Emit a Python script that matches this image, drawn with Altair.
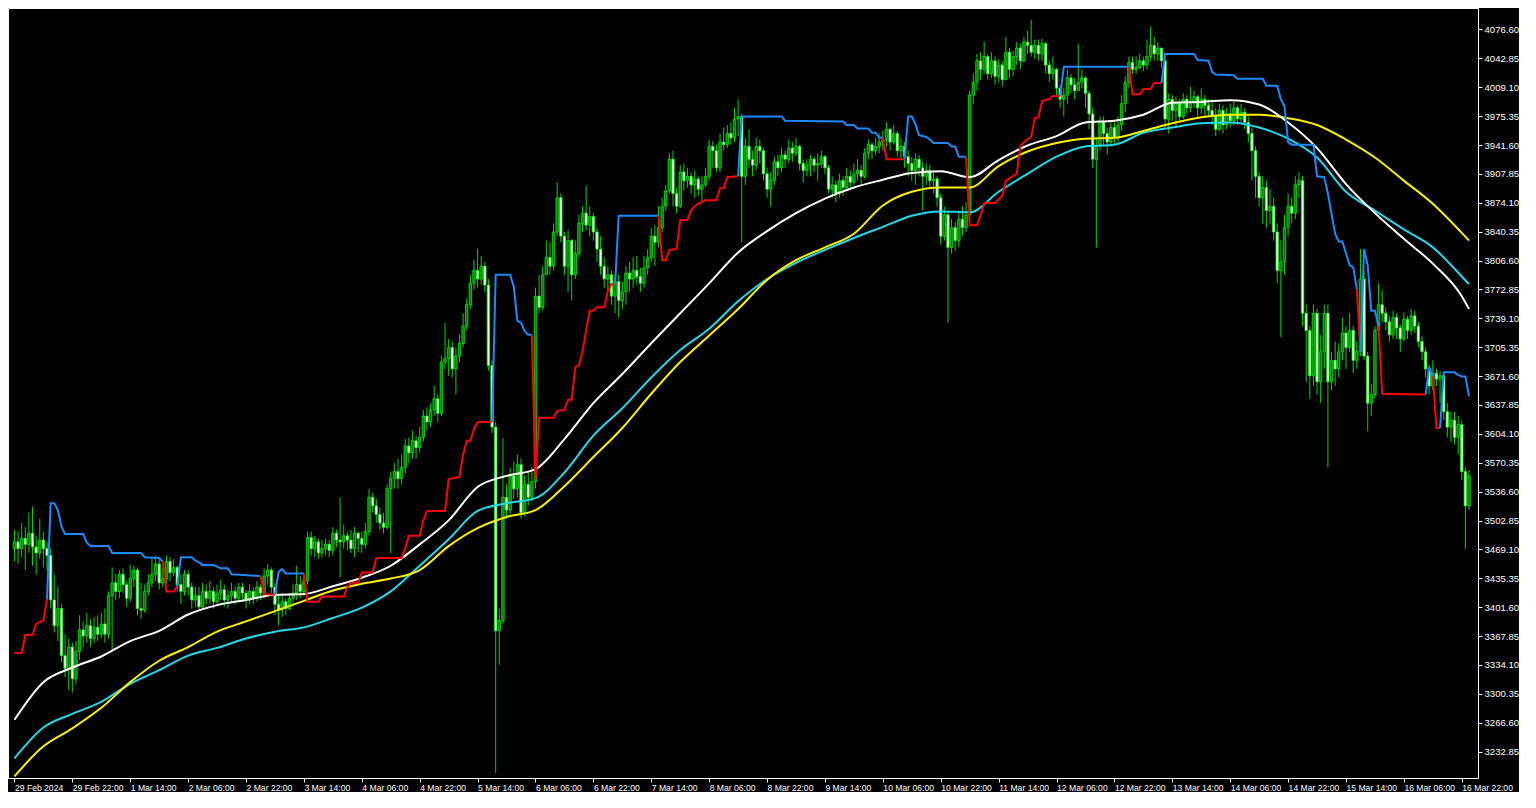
import altair as alt
import pandas as pd

# ---------------- data (hourly candles, bar 0 = 29 Feb 06:00) -------------
first_open = 3470

close = [
    3478, 3470, 3482, 3475, 3488, 3472, 3465, 3480, 3470, 3462,
    3410, 3380, 3400, 3345, 3330, 3355, 3318, 3350, 3375, 3368,
    3380, 3365, 3378, 3370, 3382, 3370, 3415, 3430, 3420, 3440,
    3428, 3412, 3435, 3445, 3400, 3398, 3420, 3430, 3440, 3452,
    3430, 3435, 3455, 3442, 3448, 3428, 3420, 3440, 3425, 3410,
    3415, 3402, 3420, 3412, 3420, 3408, 3418, 3422, 3410, 3415,
    3420, 3412, 3425, 3418, 3410, 3420, 3412, 3425, 3418, 3438,
    3445, 3425, 3405, 3398, 3408, 3400, 3412, 3418, 3428, 3420,
    3432, 3483, 3470, 3478, 3465, 3470, 3475, 3468, 3488, 3480,
    3478, 3485, 3480, 3470, 3488, 3482, 3475, 3490, 3530, 3520,
    3510, 3500, 3495, 3540, 3552, 3560, 3552, 3565, 3590, 3582,
    3596, 3588, 3600, 3625, 3618, 3632, 3645, 3628, 3688, 3692,
    3705, 3680, 3695, 3710, 3730, 3755, 3780, 3795, 3785, 3800,
    3778, 3684, 3612, 3374, 3386, 3530, 3515, 3555, 3540, 3568,
    3512, 3545, 3530, 3548, 3765, 3752, 3790, 3810, 3800, 3840,
    3880, 3835, 3800, 3830, 3790, 3815, 3850, 3862, 3848, 3858,
    3840, 3820, 3800, 3785, 3790, 3765, 3782, 3760, 3770, 3792,
    3785, 3795, 3788, 3780, 3798, 3810, 3835, 3828, 3845, 3870,
    3888, 3925, 3885, 3870, 3910, 3900, 3905, 3895, 3902, 3890,
    3895, 3905, 3940, 3935, 3915, 3945, 3942, 3955, 3950, 3972,
    3975, 3905, 3940, 3925, 3918, 3940, 3935, 3908, 3890, 3900,
    3922, 3915, 3930, 3925, 3938, 3932, 3940, 3920, 3912, 3918,
    3925, 3918, 3920, 3928, 3915, 3890, 3895, 3885, 3900, 3892,
    3905, 3898, 3908, 3912, 3905, 3932, 3942, 3935, 3940, 3945,
    3948, 3960, 3945, 3955, 3935, 3940, 3928, 3920, 3912, 3925,
    3915, 3905, 3912, 3900, 3902, 3880, 3835, 3860, 3822, 3845,
    3830, 3855, 3845, 3860, 4000, 4015, 4040, 4030, 4045, 4025,
    4040, 4022, 4035, 4018, 4050, 4030, 4045, 4055, 4040, 4062,
    4058, 4050, 4058, 4048, 4060, 4035, 4025, 4030, 4008, 3995,
    4000, 4020, 4012, 4005, 4015, 4020, 4002, 3978, 3925, 3940,
    3968, 3955, 3945, 3962, 3950, 3965, 3990, 4015, 4038, 4030,
    4032, 4040, 4035, 4045, 4058, 4048, 4055, 4040, 3972, 3995,
    3982, 3990, 3975, 3995, 3985, 3992, 3998, 3985, 3995, 3988,
    3982, 3975, 3960, 3982, 3965, 3978, 3970, 3985, 3972, 3980,
    3968, 3955, 3935, 3905, 3880, 3892, 3865, 3870, 3840, 3795,
    3805, 3845, 3870, 3862, 3895, 3900, 3745, 3725, 3672, 3745,
    3665, 3700, 3745, 3665, 3690, 3680, 3700, 3722, 3705, 3725,
    3690, 3700, 3785, 3695, 3640, 3650, 3725, 3755, 3745, 3735,
    3720, 3740, 3728, 3715, 3738, 3725, 3742, 3730, 3712, 3700,
    3680, 3660, 3675, 3668, 3672, 3630, 3612, 3620, 3600, 3615,
    3560, 3520, 3555,
]

high = [
    3492, 3490, 3500, 3495, 3512, 3519, 3485, 3505, 3490, 3478,
    3470, 3440, 3425, 3405, 3370, 3365, 3360, 3362, 3392, 3385,
    3395, 3388, 3390, 3392, 3395, 3400, 3420, 3448, 3440, 3445,
    3447, 3432, 3451, 3450, 3448, 3430, 3428, 3440, 3460, 3462,
    3458, 3448, 3462, 3460, 3458, 3450, 3440, 3445, 3445, 3430,
    3425, 3425, 3430, 3428, 3432, 3425, 3428, 3434, 3428, 3422,
    3430, 3426, 3430, 3430, 3422, 3428, 3425, 3432, 3428, 3447,
    3452, 3448, 3430, 3415, 3418, 3412, 3418, 3428, 3450, 3438,
    3440, 3490, 3490, 3485, 3482, 3480, 3482, 3480, 3495, 3492,
    3530, 3498, 3490, 3492, 3495, 3490, 3490, 3500, 3540, 3535,
    3528, 3518, 3512, 3545, 3560, 3570, 3575, 3580, 3598, 3600,
    3608, 3602, 3612, 3632, 3635, 3640, 3660, 3650, 3695, 3734,
    3715, 3712, 3705, 3720, 3745, 3762, 3790, 3808, 3820, 3812,
    3805, 3785, 3690, 3618, 3400, 3599, 3545, 3565, 3572, 3580,
    3575, 3555, 3560, 3565, 3775, 3790, 3800, 3830, 3828, 3850,
    3898, 3885, 3840, 3842, 3832, 3830, 3860, 3870, 3894, 3870,
    3862, 3845, 3835, 3810, 3800, 3795, 3790, 3790, 3782, 3800,
    3805, 3810, 3812, 3798, 3812, 3820, 3845, 3848, 3870, 3880,
    3895, 3932, 3935, 3892, 3918, 3920, 3915, 3910, 3912, 3905,
    3905, 3915, 3948, 3946, 3942, 3955, 3962, 3965, 3968, 3985,
    3995, 3978, 3950, 3960, 3935, 3950, 3948, 3938, 3915, 3910,
    3928, 3930, 3938, 3935, 3948, 3945, 3950, 3942, 3925, 3925,
    3930, 3928, 3932, 3935, 3930, 3918, 3905, 3900, 3908, 3905,
    3915, 3912, 3920, 3925, 3918, 3938, 3948, 3945, 3950, 3955,
    3958, 3968, 3962, 3965, 3958, 3950, 3945, 3935, 3928, 3932,
    3930, 3922, 3920, 3918, 3912, 3905, 3885, 3870, 3865, 3855,
    3852, 3862, 3870, 3875, 4005, 4025, 4048, 4050, 4062, 4048,
    4050, 4045, 4042, 4040, 4068, 4055, 4052, 4062, 4060, 4068,
    4075, 4088, 4065, 4065, 4066, 4062, 4040, 4045, 4032, 4012,
    4008, 4030, 4025, 4020, 4060, 4030, 4022, 4005, 3985, 3950,
    3975, 3975, 3962, 3970, 3968, 3975, 4000, 4022, 4045, 4045,
    4045, 4048, 4045, 4065, 4080, 4068, 4062, 4055, 4042, 4002,
    4000, 3998, 3995, 4002, 4000, 4010, 4005, 4000, 4008, 4000,
    3995, 3995, 3985, 3990, 3988, 3985, 3990, 3992, 3988, 3990,
    3985, 3975, 3962, 3940, 3910, 3905, 3900, 3890, 3880, 3850,
    3830, 3860, 3885, 3880, 3905, 3910, 3905, 3755, 3730, 3755,
    3750, 3720, 3755, 3755, 3700, 3712, 3710, 3740, 3730, 3745,
    3730, 3712, 3820, 3795, 3700, 3662, 3730, 3780, 3772, 3752,
    3742, 3748, 3745, 3732, 3746, 3742, 3750, 3748, 3735, 3718,
    3705, 3685, 3690, 3680, 3678, 3675, 3640, 3630, 3630, 3625,
    3620, 3565, 3562,
]

low = [
    3455, 3452, 3460, 3445, 3465, 3450, 3440, 3458, 3448, 3445,
    3400, 3372, 3362, 3337, 3320, 3305, 3302, 3312, 3340, 3355,
    3360, 3355, 3360, 3362, 3365, 3360, 3365, 3350, 3410, 3412,
    3418, 3402, 3408, 3425, 3392, 3388, 3395, 3415, 3425, 3432,
    3422, 3425, 3428, 3432, 3438, 3420, 3405, 3415, 3415, 3400,
    3402, 3398, 3400, 3405, 3405, 3400, 3405, 3410, 3402, 3400,
    3408, 3405, 3408, 3410, 3400, 3405, 3405, 3408, 3410, 3412,
    3428, 3418, 3392, 3380, 3390, 3392, 3398, 3402, 3410, 3412,
    3415, 3428, 3462, 3460, 3458, 3460, 3462, 3460, 3462, 3472,
    3436, 3470, 3468, 3465, 3460, 3466, 3465, 3470, 3485, 3512,
    3500, 3492, 3488, 3492, 3465, 3540, 3540, 3545, 3558, 3570,
    3575, 3575, 3582, 3595, 3608, 3612, 3625, 3618, 3625, 3680,
    3672, 3670, 3650, 3688, 3705, 3725, 3750, 3772, 3775, 3778,
    3770, 3678, 3605, 3208, 3334, 3382, 3505, 3510, 3528, 3530,
    3505, 3508, 3520, 3525, 3540, 3745, 3748, 3790, 3790, 3795,
    3835, 3828, 3790, 3770, 3760, 3785, 3810, 3840, 3842, 3835,
    3830, 3805, 3790, 3775, 3770, 3755, 3745, 3740, 3750, 3755,
    3770, 3775, 3778, 3770, 3775, 3790, 3805, 3800, 3822, 3840,
    3865, 3885, 3870, 3862, 3868, 3888, 3892, 3885, 3880, 3882,
    3875, 3892, 3900, 3915, 3910, 3910, 3935, 3938, 3942, 3945,
    3952, 3828, 3895, 3915, 3905, 3912, 3920, 3900, 3880, 3870,
    3895, 3905, 3910, 3915, 3920, 3922, 3928, 3912, 3898, 3905,
    3905, 3910, 3900, 3915, 3908, 3885, 3880, 3875, 3880, 3882,
    3888, 3892, 3895, 3900, 3895, 3902, 3925, 3925, 3930, 3932,
    3935, 3940, 3935, 3942, 3928, 3925, 3915, 3905, 3900, 3895,
    3905, 3865, 3895, 3890, 3885, 3870, 3825, 3830, 3734, 3815,
    3818, 3822, 3835, 3840, 3855, 3990, 4005, 4018, 4025, 4018,
    4020, 4012, 4015, 4010, 4018, 4020, 4022, 4035, 4030, 4038,
    4048, 4045, 4042, 4040, 4040, 4025, 4015, 4018, 4000, 3985,
    3975, 3990, 4002, 3995, 4005, 4008, 3985, 3960, 3915, 3822,
    3935, 3940, 3930, 3940, 3942, 3945, 3958, 3980, 4008, 4025,
    4025, 4030, 4028, 4030, 4040, 4040, 4040, 4032, 3962, 3955,
    3970, 3962, 3968, 3972, 3978, 3980, 3985, 3975, 3978, 3975,
    3975, 3965, 3952, 3958, 3955, 3960, 3962, 3965, 3965, 3968,
    3960, 3945, 3900, 3880, 3870, 3850, 3845, 3850, 3830, 3780,
    3717, 3790, 3835, 3850, 3855, 3880, 3730, 3665, 3645, 3660,
    3650, 3640, 3680, 3565, 3655, 3660, 3670, 3690, 3680, 3700,
    3675, 3680, 3695, 3690, 3607, 3625, 3645, 3720, 3735, 3725,
    3712, 3715, 3715, 3700, 3712, 3715, 3720, 3722, 3705, 3690,
    3670, 3650, 3655, 3660, 3640, 3620, 3600, 3595, 3592, 3580,
    3550, 3470, 3515,
]

# moving averages read every 8 bars
ma_bars = [0, 8, 16, 24, 32, 40, 48, 56, 64, 72,
           80, 88, 96, 104, 112, 120, 128, 136, 144, 152,
           160, 168, 176, 184, 192, 200, 208, 216, 224, 232,
           240, 248, 256, 264, 272, 280, 288, 296, 304, 312,
           320, 328, 336, 344, 352, 360, 368, 376, 384, 392,
           400, 402]
ma_white = [3270, 3314, 3331, 3344, 3362, 3374, 3393, 3404, 3410, 3416,
            3417, 3426, 3436, 3450, 3475, 3503, 3542, 3555, 3563, 3598,
            3640, 3674, 3710, 3745, 3780, 3816, 3841, 3862, 3879, 3892,
            3901, 3909, 3911, 3904, 3924, 3941, 3952, 3968, 3970, 3977,
            3991, 3992, 3994, 3989, 3968, 3938, 3896, 3862, 3832, 3803,
            3765, 3750]
ma_cyan = [3225, 3261, 3277, 3291, 3312, 3328, 3345, 3354, 3365, 3373,
           3378, 3389, 3401, 3420, 3450, 3481, 3514, 3523, 3529, 3559,
           3602, 3634, 3670, 3702, 3727, 3759, 3785, 3804, 3819, 3833,
           3846, 3859, 3864, 3863, 3887, 3908, 3928, 3940, 3942, 3956,
           3962, 3967, 3968, 3962, 3949, 3927, 3887, 3865, 3843, 3822,
           3788, 3779]
ma_yellow = [3204, 3239, 3260, 3284, 3314, 3339, 3355, 3373, 3385, 3397,
             3409, 3421, 3429, 3435, 3445, 3473, 3494, 3507, 3515, 3543,
             3577, 3611, 3651, 3688, 3719, 3750, 3784, 3807, 3822, 3838,
             3871, 3887, 3892, 3892, 3917, 3934, 3944, 3949, 3950, 3958,
             3967, 3974, 3977, 3977, 3973, 3965, 3948, 3927, 3900, 3873,
             3839, 3830]

# trailing stop: (side, [(bar, level), ...])
stop_segments = [
    ("up", [(0, 3348), (2, 3348), (3, 3369), (5, 3369), (6, 3382), (8, 3386), (9, 3411)]),
    ("down", [(9, 3411), (10, 3523), (11, 3523), (12, 3515), (13, 3496), (14, 3487), (19, 3487),
              (20, 3477), (21, 3473), (26, 3473), (27, 3465), (35, 3465), (36, 3460), (40, 3459), (41, 3455)]),
    ("up", [(41, 3455), (42, 3420), (44, 3420), (45, 3426)]),
    ("down", [(45, 3426), (46, 3460), (49, 3460), (50, 3456), (51, 3454), (52, 3451), (55, 3451),
              (56, 3449), (57, 3447), (59, 3447), (60, 3440), (68, 3438)]),
    ("up", [(68, 3438), (69, 3417), (72, 3416)]),
    ("down", [(72, 3416), (73, 3443), (74, 3446), (75, 3441), (80, 3441)]),
    ("up", [(80, 3441), (81, 3408), (84, 3408), (85, 3414), (91, 3414), (92, 3425), (93, 3430),
            (95, 3430), (96, 3442), (99, 3442), (100, 3459), (107, 3459), (108, 3470), (109, 3485),
            (112, 3485), (113, 3503), (114, 3514), (119, 3514), (120, 3551), (123, 3554), (124, 3580),
            (125, 3596), (126, 3596), (127, 3610), (128, 3618), (132, 3618)]),
    ("down", [(132, 3618), (133, 3790), (137, 3790), (138, 3776), (139, 3736), (140, 3734),
              (141, 3724), (142, 3720), (143, 3720)]),
    ("up", [(143, 3720), (144, 3551), (145, 3623), (149, 3623), (150, 3631), (152, 3632), (153, 3644),
            (154, 3644), (155, 3682), (156, 3684), (157, 3700), (158, 3725), (159, 3748), (160, 3748),
            (161, 3752), (163, 3752), (164, 3771), (165, 3779), (166, 3779)]),
    ("down", [(166, 3779), (167, 3859), (178, 3859)]),
    ("up", [(178, 3859), (179, 3807), (180, 3807), (181, 3819), (183, 3820), (184, 3854), (186, 3854),
            (187, 3865), (188, 3870), (189, 3873), (191, 3877), (194, 3877), (195, 3891), (196, 3891),
            (197, 3904), (200, 3905)]),
    ("down", [(200, 3905), (201, 3975), (212, 3975), (213, 3970), (229, 3969), (230, 3965), (232, 3965),
              (233, 3961), (236, 3961), (237, 3956), (238, 3956), (239, 3950), (240, 3950)]),
    ("up", [(240, 3950), (241, 3925), (246, 3925)]),
    ("down", [(246, 3925), (247, 3975), (248, 3975), (249, 3966), (250, 3953), (252, 3951), (253, 3948),
              (254, 3944), (258, 3944), (259, 3940), (260, 3940), (261, 3928), (263, 3928)]),
    ("up", [(263, 3928), (264, 3848), (266, 3848), (267, 3859), (268, 3874), (271, 3874), (273, 3882),
            (274, 3900), (277, 3908), (278, 3940), (279, 3945), (280, 3948), (281, 3951), (282, 3973),
            (283, 3974), (284, 3993), (286, 3995), (287, 3999), (289, 3999)]),
    ("down", [(289, 3999), (290, 4033), (308, 4033)]),
    ("up", [(308, 4033), (309, 4001), (311, 4001), (312, 4007), (314, 4007), (315, 4014), (317, 4014)]),
    ("down", [(317, 4014), (318, 4048), (326, 4048), (327, 4041), (330, 4040), (331, 4027), (332, 4024),
              (337, 4023), (338, 4019), (345, 4019), (346, 4011), (349, 4011), (350, 3995), (351, 3987),
              (352, 3945), (353, 3942), (359, 3942), (360, 3905), (362, 3904), (363, 3885), (365, 3838),
              (366, 3829), (367, 3829), (369, 3801), (370, 3799), (371, 3773)]),
    ("up", [(371, 3773), (372, 3699)]),
    ("down", [(372, 3699), (373, 3820), (374, 3801), (375, 3748), (376, 3748), (377, 3730)]),
    ("up", [(377, 3730), (378, 3651), (390, 3650)]),
    ("down", [(390, 3650), (391, 3682), (392, 3671)]),
    ("up", [(392, 3671), (393, 3611), (394, 3611)]),
    ("down", [(394, 3611), (395, 3676), (398, 3676), (399, 3673), (400, 3671), (401, 3671), (402, 3648)]),
]

price_ticks = [3232.85, 3266.60, 3300.35, 3334.10, 3367.85, 3401.60, 3435.35, 3469.10,
               3502.85, 3536.60, 3570.35, 3604.10, 3637.85, 3671.60, 3705.35, 3739.10,
               3772.85, 3806.60, 3840.35, 3874.10, 3907.85, 3941.60, 3975.35, 4009.10,
               4042.85, 4076.60]
x_tick_bars = [0, 16, 32, 48, 64, 80, 96, 112, 128, 144, 160, 176, 192, 208, 224,
               240, 256, 272, 288, 304, 320, 336, 352, 368, 384, 400]
x_tick_labels = ["29 Feb 2024", "29 Feb 22:00", "1 Mar 14:00", "2 Mar 06:00", "2 Mar 22:00",
                 "3 Mar 14:00", "4 Mar 06:00", "4 Mar 22:00", "5 Mar 14:00", "6 Mar 06:00",
                 "6 Mar 22:00", "7 Mar 14:00", "8 Mar 06:00", "8 Mar 22:00", "9 Mar 14:00",
                 "10 Mar 06:00", "10 Mar 22:00", "11 Mar 14:00", "12 Mar 06:00", "12 Mar 22:00",
                 "13 Mar 14:00", "14 Mar 06:00", "14 Mar 22:00", "15 Mar 14:00", "16 Mar 06:00",
                 "16 Mar 22:00"]

# ---------------- tables ----------------
n = min(len(close), len(high), len(low))
opens = [first_open] + close[:n - 1]
candles = pd.DataFrame({
    "i": list(range(n)), "open": opens, "high": high[:n], "low": low[:n], "close": close[:n],
})
candles["kind"] = ["bull" if c >= o else "bear" for o, c in zip(candles["open"], candles["close"])]

ma_rows = []
for name, vals in (("cyan", ma_cyan), ("yellow", ma_yellow), ("white", ma_white)):
    for b, v in zip(ma_bars, vals):
        ma_rows.append({"i": b, "value": v, "series": name})
ma_df = pd.DataFrame(ma_rows)

stop_rows = []
side_color = {"up": "#FF0000", "down": "#1E88FF"}
for k, (side, pts) in enumerate(stop_segments):
    for b, v in pts:
        stop_rows.append({"i": b, "value": v, "seg": k, "col": side_color[side]})
stop_df = pd.DataFrame(stop_rows)

# ---------------- scales & axes ----------------
FONT = "Liberation Sans"
xscale = alt.Scale(domain=[-0.4, 403.1], nice=False, zero=False)
yscale = alt.Scale(domain=[3202.0, 4101.7], nice=False, zero=False)

label_expr = "[" + ",".join("'" + s + "'" for s in x_tick_labels) + "][round(datum.value / 16)]"
xaxis = alt.Axis(values=x_tick_bars, labelExpr=label_expr, title=None, orient="bottom",
                 grid=False, domain=False, ticks=True, tickSize=4, tickColor="#FFFFFF",
                 labelColor="#FFFFFF", labelFont=FONT, labelFontSize=8.6, labelAlign="left",
                 labelBaseline="top", labelPadding=1, labelFlush=False, labelOverlap=False)
yaxis = alt.Axis(values=price_ticks, format=".2f", title=None, orient="right", grid=False,
                 domain=False, ticks=True, tickSize=4, tickColor="#FFFFFF", labelColor="#FFFFFF",
                 labelFont=FONT, labelFontSize=9.6, labelPadding=2, labelOverlap=False)


def X():
    return alt.X("i:Q", scale=xscale, axis=xaxis)


def Y(field):
    return alt.Y(field + ":Q", scale=yscale, axis=yaxis)


wicks = alt.Chart(candles).mark_rule(color="#00D400", strokeWidth=1, clip=True).encode(
    x=X(), y=Y("low"), y2="high:Q"
)
bodies = alt.Chart(candles).mark_bar(size=2.5, stroke="#00FF00", strokeWidth=0.7, clip=True).encode(
    x=X(), y=Y("open"), y2="close:Q",
    fill=alt.Fill("kind:N", scale=alt.Scale(domain=["bull", "bear"], range=["#0A7A0A", "#E6FFE6"]),
                  legend=None),
)
mas = alt.Chart(ma_df).mark_line(strokeWidth=2, interpolate="monotone", clip=True).encode(
    x=X(), y=Y("value"),
    color=alt.Color("series:N", scale=alt.Scale(domain=["cyan", "yellow", "white"],
                                                range=["#22D8EA", "#FFF000", "#FFFFFF"]),
                    legend=None),
)
stops = alt.Chart(stop_df).mark_line(strokeWidth=2, clip=True).encode(
    x=X(), y=Y("value"),
    color=alt.Color("col:N", scale=None),
    detail="seg:N",
)

chart = alt.layer(wicks, bodies, mas, stops).properties(
    width=1470, height=770,
    padding={"left": 0, "top": 0, "right": 0, "bottom": 0},
).configure(background="#000000").configure_view(stroke="#FFFFFF", strokeWidth=1)

chart.save("out.html", embed_options={"renderer": "svg", "actions": False})
